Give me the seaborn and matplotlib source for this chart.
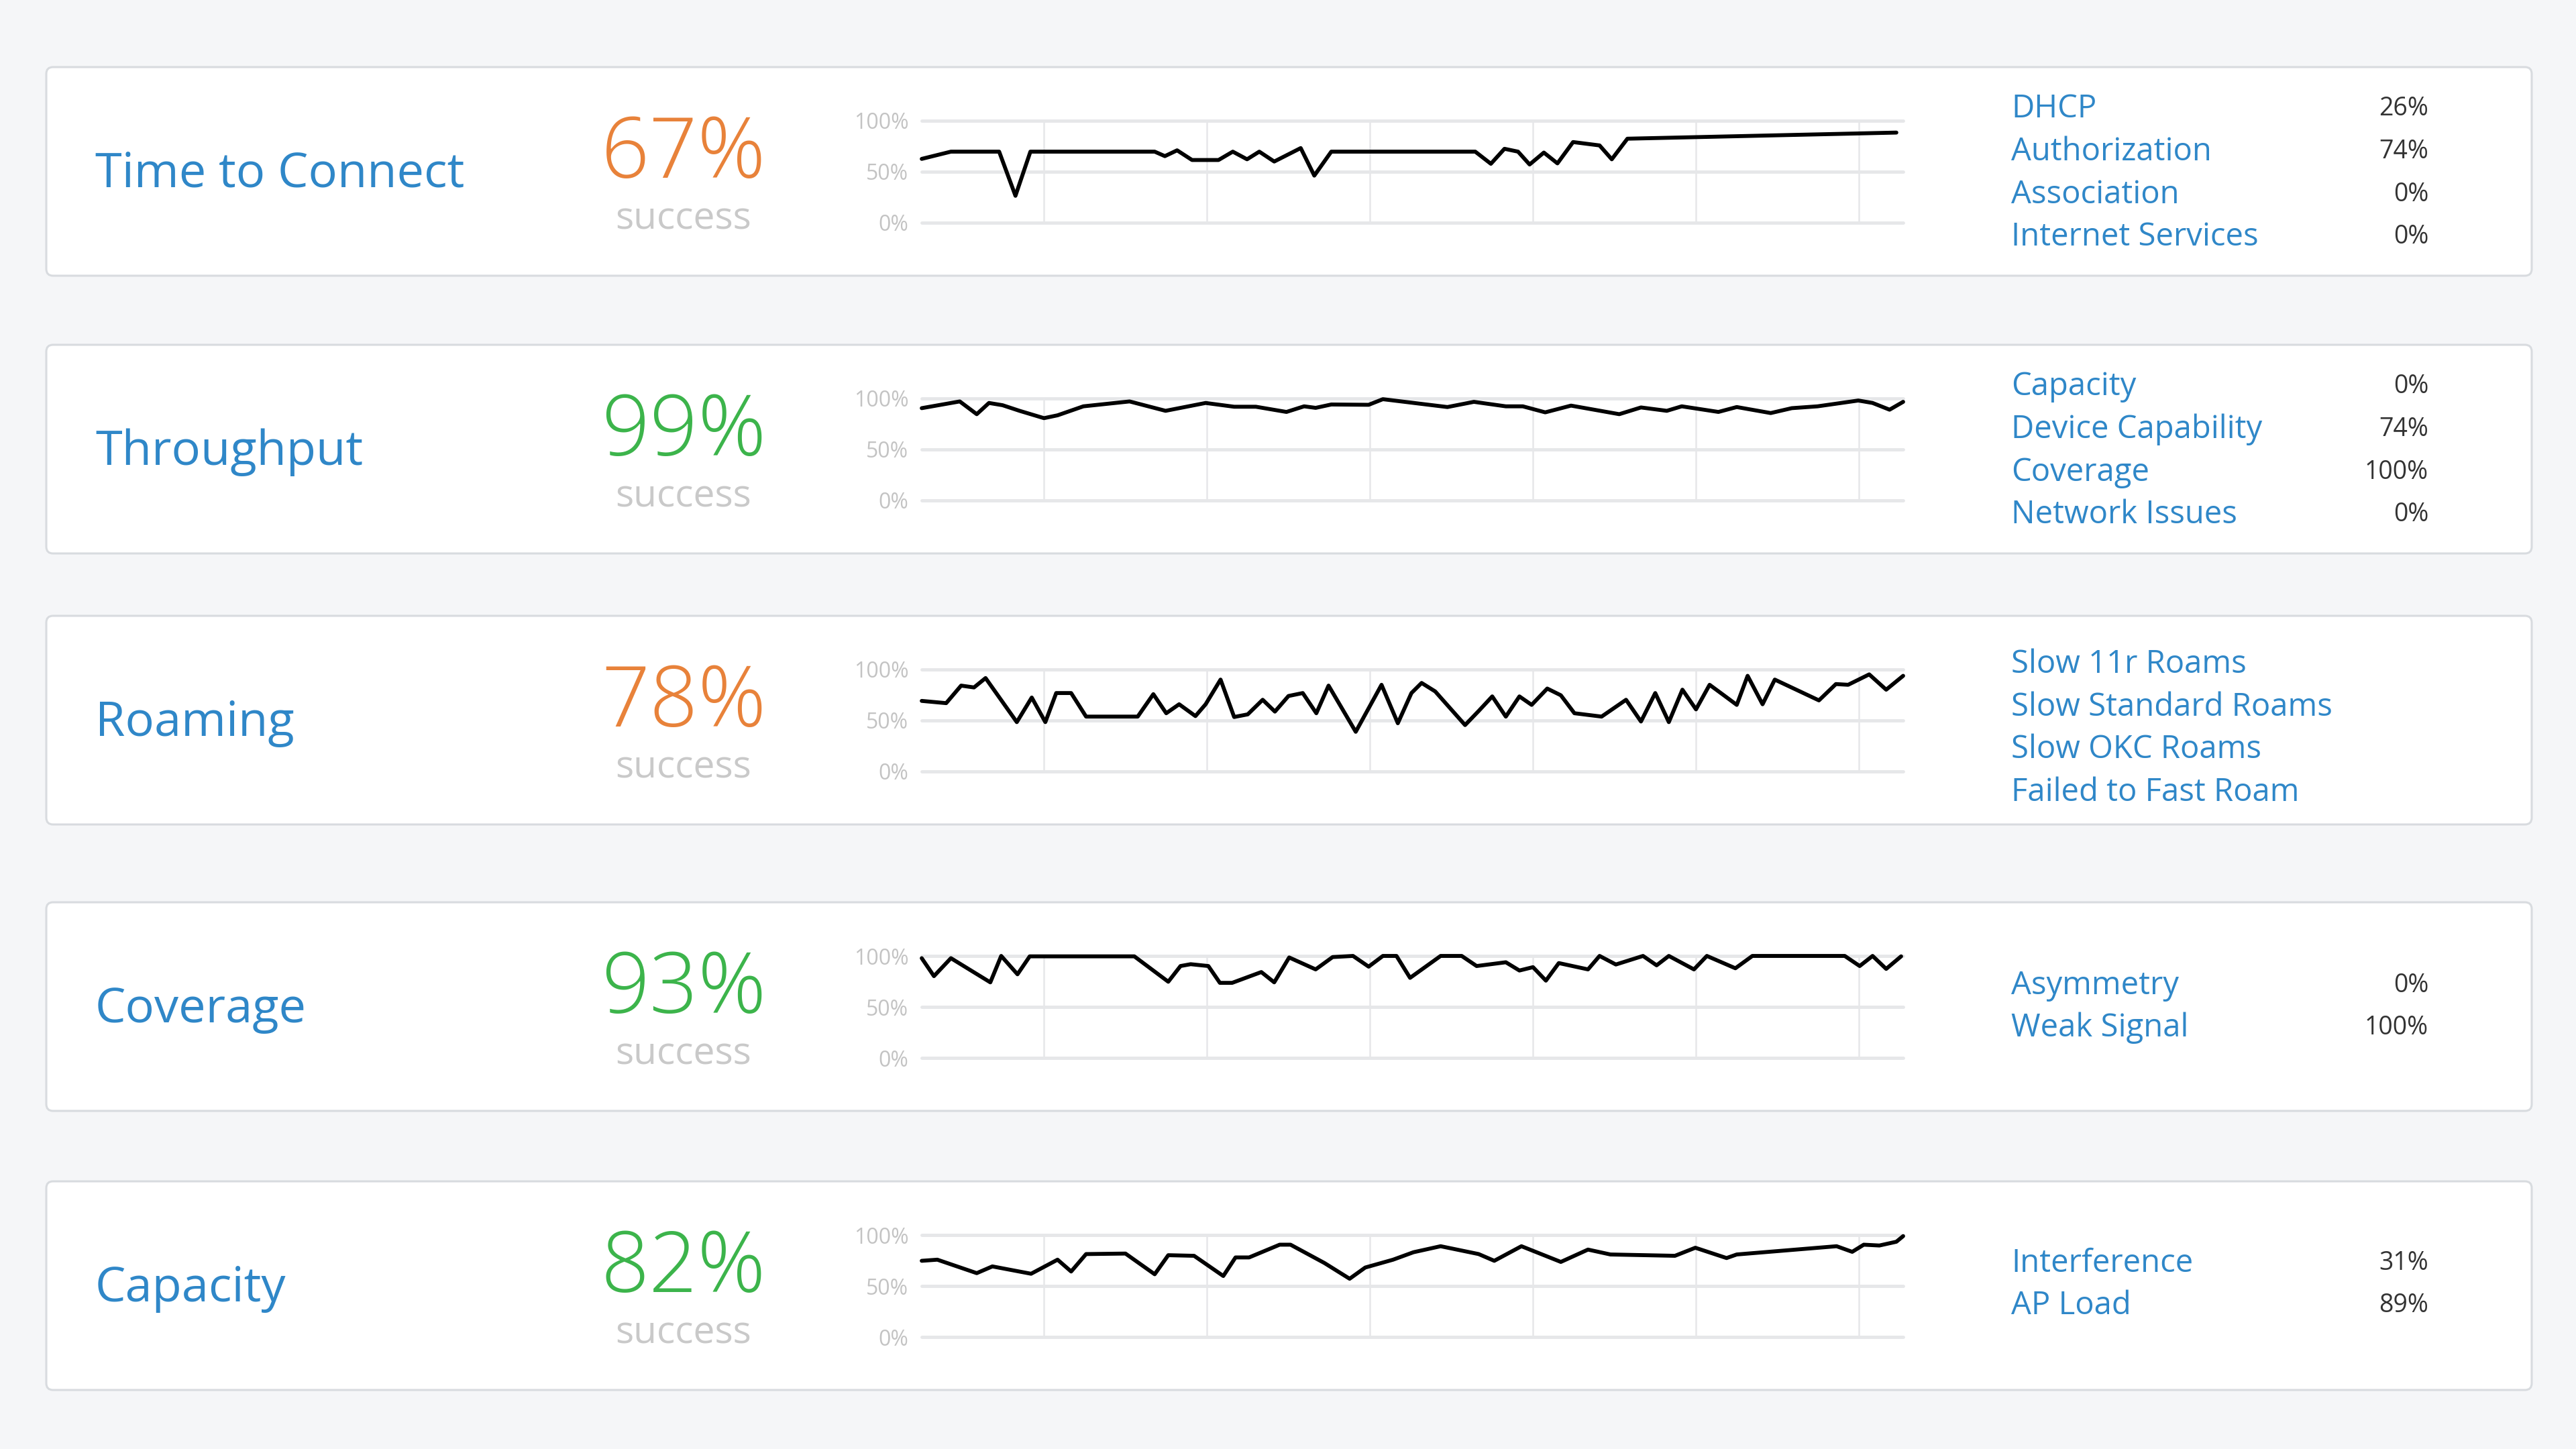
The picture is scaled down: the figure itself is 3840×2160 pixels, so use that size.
import numpy as np
import pandas as pd
import seaborn as sns
import matplotlib.pyplot as plt
from matplotlib.patches import FancyBboxPatch

sns.set_theme(style="white")
plt.rcParams['font.family'] = ['Open Sans', 'DejaVu Sans']

# ---- data (hours since start, success %) ----
ttc_x = [0, 4.3, 11.4, 13.8, 16, 34.3, 35.8, 37.6, 39.8, 43.7, 45.8, 47.9, 49.7, 51.9, 55.8, 57.8, 60.3,
         81.5, 83.8, 85.8, 87.8, 89.5, 91.6, 93.6, 95.9, 99.8, 101.6, 103.9, 143.5]
ttc_y = [62.6, 69.7, 69.7, 26.4, 69.7, 69.7, 65.3, 71, 61.5, 61.5, 69.7, 62.2, 69.7, 60, 73.2, 46.2, 69.7,
         69.7, 57.8, 72.5, 69.7, 57.1, 68.8, 58.2, 79.1, 75.8, 62.2, 82.4, 88.4]

thr_x = [0, 5.6, 8.1, 9.9, 11.9, 14.4, 18, 20, 23.8, 30.6, 35.9, 41.8, 46, 49.2, 53.7, 56.3, 58, 60.3, 65.8,
         67.9, 77.4, 81.3, 86, 88.5, 91.8, 95.6, 102.7, 105.9, 109.7, 111.9, 117.3, 120, 125, 128.1, 131.9,
         137.9, 140, 142.5, 144.5]
thr_y = [90.5, 97.1, 84.6, 95.6, 93.4, 87.9, 80.7, 83.5, 92.3, 97.1, 87.9, 95.6, 91.9, 91.9, 86.8, 92.3,
         90.8, 94.1, 93.8, 99.3, 91.6, 96.7, 92.3, 92.3, 86.4, 93, 84.6, 91.2, 87.9, 92.3, 86.8, 91.6, 85.7,
         90.5, 92.3, 98, 95.6, 89, 96.7]

roam_x = [0, 3.6, 5.8, 7.7, 9.4, 14, 16.2, 18.2, 19.8, 22, 24.2, 31.8, 34.1, 36, 37.9, 40.3, 41.8, 44, 46,
          48, 50.2, 52, 54, 56.1, 58.1, 59.9, 63.9, 67.7, 70.1, 72.1, 73.6, 75.6, 80, 82, 84, 86, 88, 89.8,
          92.1, 94.1, 96.1, 100.1, 103.7, 105.9, 108, 110, 112, 114, 116, 118.1, 120, 121.6, 123.8, 125.6,
          132.1, 134.6, 136.4, 139.5, 142, 144.5]
roam_y = [69.2, 67, 84.2, 82.4, 91.6, 48.4, 72.5, 48.4, 76.9, 76.9, 53.8, 53.8, 75.8, 57.1, 65.9, 54.3,
          65.9, 90.1, 53.4, 56, 70.3, 58.7, 74, 76.9, 57.1, 84.2, 38.9, 85, 47.3, 76.9, 86.8, 78.5, 45.5,
          59.3, 73.6, 53.8, 73.6, 65.3, 81.3, 74.7, 57.1, 53.8, 70.3, 49, 76.9, 48.4, 80.2, 60.9, 85,
          74.7, 65.3, 93.8, 65.9, 90.1, 69.7, 85.7, 85, 95.2, 80.2, 93.8]

cov_x = [0, 1.8, 4.3, 10.1, 11.7, 14.1, 15.9, 31.3, 36.3, 38.1, 39.6, 42.2, 43.9, 45.7, 50, 51.9, 54.1, 58,
         60.5, 63.5, 65.8, 67.9, 69.9, 71.9, 76.4, 79.5, 81.7, 86, 88, 90, 91.9, 93.8, 98.1, 99.8, 102.2,
         106.2, 108.2, 110, 113.7, 115.6, 119.8, 122.3, 135.9, 138.1, 140, 142, 144.2]
cov_y = [97.8, 80.2, 97.8, 74.1, 100, 82, 99.6, 99.6, 74.7, 90.1, 91.9, 90.1, 73.6, 73.6, 84.2, 74.1, 98.5,
         86.8, 98.9, 100, 89.5, 100, 100, 78.5, 100, 100, 90.1, 93.8, 85.7, 89, 75.8, 93, 86.8, 100, 91.6,
         100, 90.8, 100, 86.8, 100, 87.9, 100, 100, 90.1, 100, 87.3, 99.6]

cap_x = [0, 2.3, 8.1, 10.4, 16.1, 20, 22, 24.2, 30, 34.3, 36.3, 40.1, 44.4, 46.2, 48.2, 52.7, 54.3, 59.3,
         63, 65.3, 69.4, 72.4, 76.4, 82, 84.3, 88.3, 94.1, 98.1, 101.4, 110.9, 113.9, 118.5, 120, 134.7,
         137, 138.7, 141, 143.5, 144.5]
cap_y = [74.7, 75.8, 62.6, 69.2, 62, 75.8, 64.2, 81.3, 81.8, 61.5, 80.2, 79.6, 59.8, 78, 78, 90.5, 90.5,
         72.5, 57.1, 68.1, 75.8, 83.1, 89, 81.3, 74.7, 89, 73.6, 85.7, 80.9, 79.6, 87.5, 77.4, 80.9, 89,
         83.5, 90.5, 89.7, 93.4, 98.9]

titles = ["Time to Connect", "Throughput", "Roaming", "Coverage", "Capacity"]
success = ["67%", "99%", "78%", "93%", "82%"]
success_colors = ["#e8823a", "#3cb44b", "#e8823a", "#3cb44b", "#3cb44b"]
series = [(ttc_x, ttc_y), (thr_x, thr_y), (roam_x, roam_y), (cov_x, cov_y), (cap_x, cap_y)]
reasons = [
    ["DHCP", "Authorization", "Association", "Internet Services"],
    ["Capacity", "Device Capability", "Coverage", "Network Issues"],
    ["Slow 11r Roams", "Slow Standard Roams", "Slow OKC Roams", "Failed to Fast Roam"],
    ["Asymmetry", "Weak Signal"],
    ["Interference", "AP Load"],
]
reason_vals = [
    ["26%", "74%", "0%", "0%"],
    ["0%", "74%", "100%", "0%"],
    ["", "", "", ""],
    ["0%", "100%"],
    ["31%", "89%"],
]

# ---- layout (pixels) ----
W, H = 3840, 2160
card_tops = [100, 514, 918, 1345, 1761]
card_h = 311
row_offsets = [[62, 126, 190, 253], [62, 126, 190, 253], [72, 136, 199, 263], [124, 187], [122, 185]]
blue = "#2f87c8"

fig = plt.figure(figsize=(W / 100, H / 100), dpi=100)
fig.patch.set_facecolor("#f5f6f8")
bg = fig.add_axes([0, 0, 1, 1])
bg.set_xlim(0, W)
bg.set_ylim(H, 0)
bg.axis("off")

for i, top in enumerate(card_tops):
    bg.add_patch(FancyBboxPatch((69, top), 3705, card_h, boxstyle="round,pad=0,rounding_size=10",
                                fc="white", ec="#d8dbdf", lw=2.2))
    bg.text(142, top + 160, titles[i], color=blue, fontsize=52, va="center", ha="left")
    bg.text(1019, top + 132, success[i], color=success_colors[i], fontsize=91, va="center", ha="center",
            fontweight="light")
    bg.text(1019, top + 227, "success", color="#c9c9c9", fontsize=41, va="center", ha="center")
    for lab, val, off in zip(reasons[i], reason_vals[i], row_offsets[i]):
        bg.text(2998, top + off, lab, color=blue, fontsize=34, va="center", ha="left")
        if val:
            bg.text(3620, top + off, val, color="#333333", fontsize=27, va="center", ha="right")

    # sparkline
    y100, y0 = top + 80, top + 232
    ax = fig.add_axes([1374 / W, 1 - y0 / H, (2837 - 1374) / W, (y0 - y100) / H])
    ax.set_facecolor("none")
    for v in [0, 50, 100]:
        ax.axhline(v, color="#e6e7e9", lw=3.5, zorder=0)
    for t in [18, 42, 66, 90, 114, 138]:
        ax.plot([t, t], [0, 100], color="#e6e7e9", lw=1.8, zorder=0)
    df = pd.DataFrame({"hour": series[i][0], "pct": series[i][1]})
    sns.lineplot(data=df, x="hour", y="pct", ax=ax, color="black", lw=4.2, zorder=3)
    for l in ax.lines:
        l.set_clip_on(False)
    ax.set_xlim(0, 144.5)
    ax.set_ylim(0, 100)
    ax.set_xticks([])
    ax.set_yticks([0, 50, 100])
    ax.set_yticklabels(["0%", "50%", "100%"], color="#c3c3c3", fontsize=23)
    ax.tick_params(axis="y", length=0, pad=14)
    ax.set_xlabel("")
    ax.set_ylabel("")
    for s in ax.spines.values():
        s.set_visible(False)

fig.savefig("out.png", dpi=100, facecolor=fig.get_facecolor())
